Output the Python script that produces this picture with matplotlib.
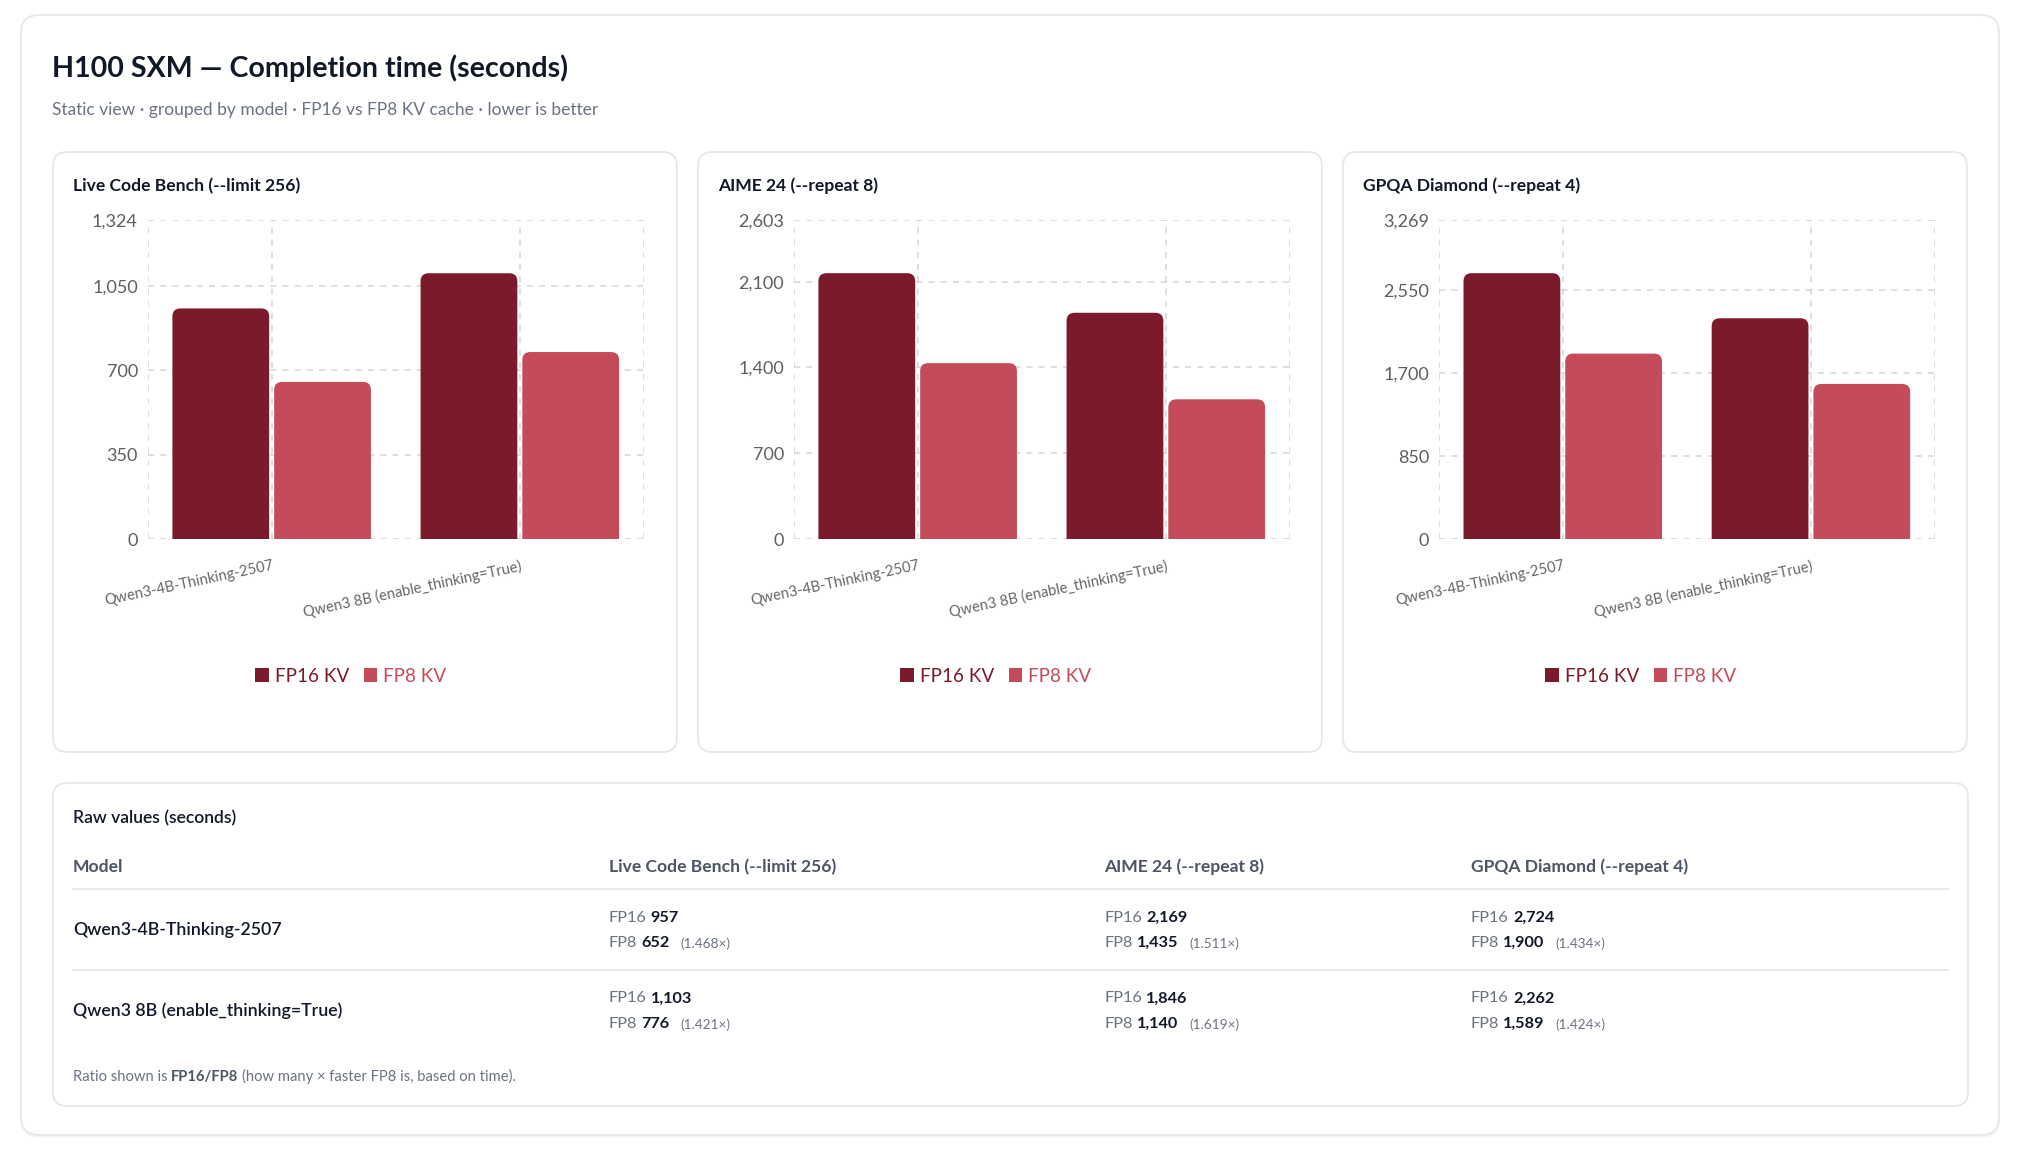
import matplotlib.pyplot as plt
from matplotlib.patches import FancyBboxPatch, Patch

plt.rcParams['font.family'] = ['Lato', 'DejaVu Sans']

W, H = 2020, 1154

title = "H100 SXM — Completion time (seconds)"
subtitle = "Static view · grouped by model · FP16 vs FP8 KV cache · lower is better"
models = ["Qwen3-4B-Thinking-2507", "Qwen3 8B (enable_thinking=True)"]
benchmarks = ["Live Code Bench (--limit 256)", "AIME 24 (--repeat 8)", "GPQA Diamond (--repeat 4)"]
series = ["FP16 KV", "FP8 KV"]

# completion time in seconds, one list per benchmark, one value per model
fp16_times = [[957, 1103], [2169, 1846], [2724, 2262]]
fp8_times = [[652, 776], [1435, 1140], [1900, 1589]]

y_max = [1324, 2603, 3269]
y_ticks = [[0, 350, 700, 1050], [0, 700, 1400, 2100], [0, 850, 1700, 2550]]

colors = ["#7b1a2a", "#c44c5a"]
dark = "#111827"
gray = "#6b7280"
border = "#e5e7eb"

fig = plt.figure(figsize=(W / 100, H / 100), dpi=100)
bg = fig.add_axes([0, 0, 1, 1])
bg.set_xlim(0, W)
bg.set_ylim(H, 0)
bg.axis('off')


def card(x0, y0, x1, y1, r, shadow=False):
    if shadow:
        bg.add_patch(FancyBboxPatch((x0 + 1, y0 + 3), x1 - x0, y1 - y0,
                                    boxstyle=f"round,pad=0,rounding_size={r}",
                                    fc='black', ec='none', alpha=0.035))
    bg.add_patch(FancyBboxPatch((x0, y0), x1 - x0, y1 - y0,
                                boxstyle=f"round,pad=0,rounding_size={r}",
                                fc='white', ec=border, lw=1.3))


card(21, 15, 1999, 1135, 18, shadow=True)
bg.text(52, 68, title, fontsize=20.6, fontweight='bold', color=dark, va='center')
bg.text(52, 110, subtitle, fontsize=12.5, color=gray, va='center')

card_left = [53, 698, 1343]
ax_left = [147.6, 793.6, 1438.7]
ax_w, ax_top, ax_bot = 496.3, 220, 539
offsets = [-0.205, 0.205]
bar_w = 0.39
radius = 8

for k in range(3):
    card(card_left[k], 152, card_left[k] + 624, 752, 14)
    bg.text(card_left[k] + 20, 186, benchmarks[k], fontsize=12.6, fontweight='bold',
            color=dark, va='center')

    ax = fig.add_axes([ax_left[k] / W, 1 - ax_bot / H, ax_w / W, (ax_bot - ax_top) / H])
    ax.set_xlim(-0.5, 1.5)
    ax.set_ylim(0, y_max[k])
    for s in ax.spines.values():
        s.set_visible(False)

    # dashed grid, including frame
    for yv in y_ticks[k] + [y_max[k]]:
        ax.axhline(yv, color='#d4d4d4', lw=1.1, ls=(0, (4, 4)), zorder=0)
    for xv in [-0.5, 0, 1, 1.5]:
        ax.axvline(xv, color='#d4d4d4', lw=1.1, ls=(0, (4, 4)), zorder=0)

    rx = radius / (ax_w / 2)
    ry = radius * y_max[k] / (ax_bot - ax_top)
    for j, vals in enumerate([fp16_times[k], fp8_times[k]]):
        for i, v in enumerate(vals):
            x0 = i + offsets[j] - bar_w / 2
            ax.add_patch(FancyBboxPatch((x0, -ry), bar_w, v + ry,
                                        boxstyle=f"round,pad=0,rounding_size={rx}",
                                        mutation_aspect=ry / rx,
                                        fc=colors[j], ec='none', zorder=2))

    ax.set_yticks(y_ticks[k] + [y_max[k]])
    ax.set_yticklabels([f"{v:,}" for v in y_ticks[k] + [y_max[k]]])
    ax.set_xticks(range(len(models)))
    ax.set_xticklabels(models, rotation=12, ha='right', rotation_mode='anchor')
    ax.tick_params(axis='y', length=0, pad=7, labelsize=13, labelcolor='#5f5f5f')
    ax.tick_params(axis='x', length=0, pad=14, labelsize=10.6, labelcolor='#666666')

    handles = [Patch(fc=c, ec='none') for c in colors]
    fig.legend(handles, series, loc='center',
               bbox_to_anchor=((card_left[k] + 298) / W, 1 - 676 / H),
               bbox_transform=fig.transFigure, ncol=2, frameon=False,
               fontsize=13.6, labelcolor=colors, handlelength=0.7, handleheight=0.7,
               handletextpad=0.35, columnspacing=0.75, borderpad=0)

# raw values table
card(53, 783, 1968, 1106, 14)
bg.text(73, 818, "Raw values (seconds)", fontsize=12.6, fontweight='semibold', color=dark, va='center')

col_x = [608.7, 1104.5, 1471]
bg.text(73, 867, "Model", fontsize=12.6, fontweight='bold', color='#4b5563', va='center')
for k in range(3):
    bg.text(col_x[k], 867, benchmarks[k], fontsize=12.6, fontweight='bold', color='#4b5563', va='center')
bg.plot([73, 1948], [889, 889], color=border, lw=1.3)
bg.plot([73, 1948], [970, 970], color=border, lw=1.3)


def chain(x, y, parts):
    t = bg.text(x, y, parts[0][0], va='center', **parts[0][1])
    for s, kw, gap in parts[1:]:
        t = bg.annotate(s, xy=(1, 0), xycoords=t, xytext=(gap * 0.72, 0),
                        textcoords='offset points', va='bottom', **kw)


label_kw = dict(fontsize=11.7, color=gray)
value_kw = dict(fontsize=11.7, color=dark, fontweight='bold')
ratio_kw = dict(fontsize=9.8, color=gray)

row_y = [930, 1011]
for i, m in enumerate(models):
    bg.text(73, row_y[i], m, fontsize=12.8, fontweight='semibold', color=dark, va='center')
    for k in range(3):
        a, b = fp16_times[k][i], fp8_times[k][i]
        chain(col_x[k], row_y[i] - 12.5, [("FP16", label_kw, 0), (f"{a:,}", value_kw, 4)])
        chain(col_x[k], row_y[i] + 13, [("FP8", label_kw, 0), (f"{b:,}", value_kw, 4),
                                         (f"({a / b:.3f}×)", ratio_kw, 11)])

foot_kw = dict(fontsize=10.6, color=gray)
chain(73, 1077, [("Ratio shown is", foot_kw, 0),
                 ("FP16/FP8", dict(fontsize=10.6, color='#4b5563', fontweight='bold'), 3.5),
                 ("(how many × faster FP8 is, based on time).", foot_kw, 3.5)])

fig.savefig("out.png", dpi=100, facecolor='white')
